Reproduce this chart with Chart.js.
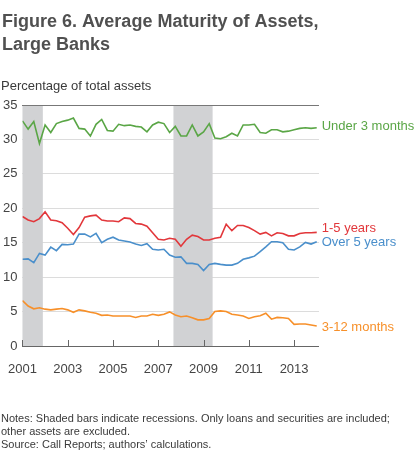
<!DOCTYPE html>
<html>
<head>
<meta charset="utf-8">
<script src="https://cdn.jsdelivr.net/npm/chart.js@4"></script>
<style>
  html, body { margin: 0; padding: 0; background: #fff; }
  #wrap { position: relative; width: 420px; height: 465px; }
</style>
</head>
<body>
<div id="wrap"><canvas id="chart"></canvas></div>
<script>
// Quarterly data, 2001Q1 - 2014Q1 (percentage of total assets)
const under3Months = [32.7, 31.5, 32.6, 29.4, 32.1, 31.0, 32.3, 32.6, 32.8, 33.1, 31.6, 31.5, 30.5, 32.2, 32.9, 31.3, 31.2, 32.2, 32.0, 32.1, 31.9, 31.8, 31.1, 32.1, 32.5, 32.3, 31.0, 31.9, 30.5, 30.5, 32.1, 30.5, 31.1, 32.3, 30.2, 30.1, 30.4, 30.9, 30.5, 32.1, 32.1, 32.2, 31.0, 30.9, 31.4, 31.4, 31.1, 31.2, 31.4, 31.6, 31.7, 31.6, 31.7];
const oneToFiveYears = [18.8, 18.3, 18.05, 18.5, 19.5, 18.3, 18.2, 17.9, 17.1, 16.2, 17.2, 18.7, 18.9, 19.0, 18.3, 18.15, 18.15, 18.05, 18.6, 18.5, 17.8, 17.7, 17.4, 16.45, 15.5, 15.4, 15.65, 15.5, 14.5, 15.5, 16.1, 15.9, 15.4, 15.4, 15.65, 15.8, 17.7, 16.75, 17.5, 17.5, 17.2, 16.75, 16.25, 16.5, 16.0, 16.45, 16.35, 16.0, 16.0, 16.35, 16.45, 16.45, 16.5];
const over5Years = [12.6, 12.65, 12.1, 13.45, 13.2, 14.35, 13.85, 14.75, 14.7, 14.8, 16.25, 16.25, 15.85, 16.35, 15.0, 15.5, 15.8, 15.4, 15.25, 15.1, 14.8, 14.6, 14.85, 14.05, 13.95, 14.05, 13.2, 12.9, 12.95, 12.0, 12.0, 11.85, 10.95, 11.85, 12.0, 11.85, 11.75, 11.75, 12.0, 12.6, 12.8, 13.05, 13.7, 14.4, 15.15, 15.15, 15.0, 14.05, 13.95, 14.4, 15.05, 14.8, 15.15];
const threeTo12Months = [6.6, 5.8, 5.4, 5.55, 5.35, 5.25, 5.35, 5.45, 5.25, 4.9, 5.25, 5.1, 4.9, 4.75, 4.45, 4.5, 4.35, 4.35, 4.35, 4.35, 4.15, 4.35, 4.35, 4.6, 4.45, 4.6, 4.95, 4.5, 4.25, 4.35, 4.1, 3.8, 3.8, 4.0, 5.0, 5.1, 5.0, 4.6, 4.5, 4.35, 4.0, 4.25, 4.4, 4.75, 3.9, 4.15, 4.1, 4.0, 3.15, 3.2, 3.2, 3.05, 2.9];

const seriesNames = ["Under 3 months", "1-5 years", "Over 5 years", "3-12 months"];
const seriesColors = ["#5aa646", "#e2373b", "#4a8fcb", "#f7902a"];

// Tick labels and recession periods (decimal years)
const yearTicks = [2001, 2003, 2005, 2007, 2009, 2011, 2013];
const recessions = [[2001.0, 2001.9], [2007.67, 2009.4]];

// x position of each quarter
const startYear = 2001;
const toPoints = (arr) => arr.map((v, i) => ({ x: startYear + i / 4, y: v }));

const FONT = "'Liberation Sans', Arial, Helvetica, sans-serif";

// Label offsets next to the last point of each line
const labelShift = [-1.5, -4, 1, 1.7];

const decorPlugin = {
  id: "decor",
  beforeDatasetsDraw(chart) {
    const { ctx } = chart;
    const x = chart.scales.x;
    const y = chart.scales.y;
    ctx.save();
    ctx.fillStyle = "#d1d2d4";
    const top = y.getPixelForValue(35) + 1;
    const bottom = y.getPixelForValue(0);
    recessions.forEach(([a, b]) => {
      const x1 = x.getPixelForValue(a);
      const x2 = x.getPixelForValue(b);
      ctx.fillRect(x1, top, x2 - x1, bottom - top);
    });
    // axis line at 0
    ctx.strokeStyle = "#666";
    ctx.lineWidth = 1;
    ctx.beginPath();
    ctx.moveTo(chart.chartArea.left, Math.round(bottom) + 0.5);
    ctx.lineTo(chart.chartArea.right, Math.round(bottom) + 0.5);
    ctx.stroke();
    // inward tick marks
    ctx.strokeStyle = "#666";
    yearTicks.forEach((t) => {
      const px = Math.round(x.getPixelForValue(t)) + 0.5;
      ctx.beginPath();
      ctx.moveTo(px, bottom);
      ctx.lineTo(px, bottom - 6);
      ctx.stroke();
    });
    ctx.restore();
  },
  afterDraw(chart) {
    const { ctx } = chart;
    ctx.save();
    ctx.textAlign = "left";
    ctx.textBaseline = "alphabetic";

    ctx.fillStyle = "#505050";
    ctx.font = "bold 18px " + FONT;
    ctx.fillText("Figure 6. Average Maturity of Assets,", 2, 27);
    ctx.fillText("Large Banks", 2, 50);

    ctx.fillStyle = "#3a3a3a";
    ctx.font = "13px " + FONT;
    ctx.fillText("Percentage of total assets", 1, 90);

    ctx.font = "11px " + FONT;
    ctx.fillText("Notes: Shaded bars indicate recessions. Only loans and securities are included;", 1, 422);
    ctx.fillText("other assets are excluded.", 1, 435);
    ctx.fillText("Source: Call Reports; authors\u2019 calculations.", 1, 448);

    // series labels at line ends
    ctx.font = "13px " + FONT;
    ctx.textBaseline = "middle";
    chart.data.datasets.forEach((ds, i) => {
      const meta = chart.getDatasetMeta(i);
      const last = meta.data[meta.data.length - 1];
      ctx.fillStyle = seriesColors[i];
      ctx.fillText(seriesNames[i], last.x + 5, last.y + labelShift[i]);
    });
    ctx.restore();
  },
};

const datasets = [under3Months, oneToFiveYears, over5Years, threeTo12Months].map((arr, i) => ({
  label: seriesNames[i],
  data: toPoints(arr),
  borderColor: seriesColors[i],
  borderWidth: 1.6,
  pointRadius: 0,
  tension: 0,
  fill: false,
}));

new Chart(document.getElementById("chart"), {
  type: "line",
  data: { datasets },
  plugins: [decorPlugin],
  options: {
    responsive: true,
    maintainAspectRatio: false,
    animation: false,
    layout: { padding: { top: 105, right: 101, left: 0, bottom: 0 } },
    plugins: {
      legend: { display: false },
      tooltip: { enabled: false },
    },
    scales: {
      x: {
        type: "linear",
        min: 2001,
        max: 2014.1,
        afterBuildTicks: (scale) => {
          scale.ticks = yearTicks.map((v) => ({ value: v }));
        },
        afterFit: (scale) => {
          scale.height = 119;
        },
        grid: { display: false },
        border: { display: false },
        ticks: {
          autoSkip: false,
          maxRotation: 0,
          padding: 8,
          color: "#444",
          font: { size: 13, family: FONT },
          callback: (v) => String(v),
        },
      },
      y: {
        min: 0,
        max: 35,
        afterFit: (scale) => {
          scale.width = 20;
        },
        border: { display: false },
        grid: {
          drawTicks: false,
          color: (c) => (c.tick && c.tick.value === 35 ? "#777" : c.tick && c.tick.value === 0 ? "#666" : "#dcdcdc"),
          lineWidth: 1,
        },
        ticks: {
          stepSize: 5,
          padding: 5,
          color: "#444",
          font: { size: 13, family: FONT },
        },
      },
    },
  },
});
</script>
</body>
</html>
